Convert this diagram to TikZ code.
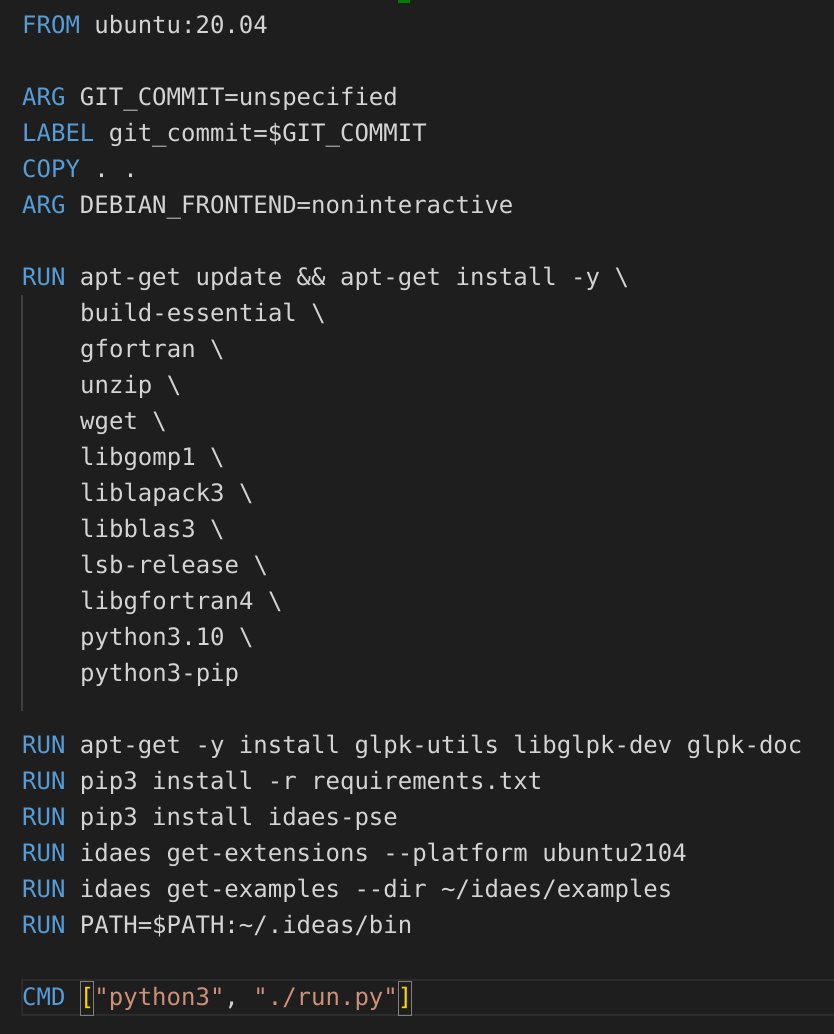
\documentclass[tikz,border=0pt]{standalone}
\usepackage{fontspec}
\newfontfamily\code{DejaVu Sans Mono}
\definecolor{bg}{HTML}{1E1E1E}
\definecolor{kw}{HTML}{569CD6}
\definecolor{tx}{HTML}{D4D4D4}
\definecolor{st}{HTML}{CE9178}
\definecolor{br}{HTML}{FFD700}
\definecolor{guide}{HTML}{404040}
\definecolor{hl}{HTML}{2C2C2C}
\newcommand{\kw}[1]{\textcolor{kw}{#1}}
\newcommand{\st}[1]{\textcolor{st}{#1}}
\newcommand{\bs}{\textbackslash}
\begin{document}
\begin{tikzpicture}[x=1pt,y=-1pt,
  ln/.style={anchor=base west,inner sep=0pt,text=tx,font=\code\fontsize{24}{24}\selectfont}]
\fill[bg] (0,0) rectangle (834,1034);
\useasboundingbox (0,0) rectangle (834,1034);
\fill[green!50!black] (398,0) rectangle (410,3);
\draw[guide,line width=1.2pt] (22,295) -- (22,711);
\draw[hl,line width=2pt] (22,980) rectangle (840,1015);
\node[ln] (l1) at (22,33) {\kw{FROM} ubuntu:20.04};
\node[ln] (l3) at (22,105) {\kw{ARG} GIT\_COMMIT=unspecified};
\node[ln] (l4) at (22,141) {\kw{LABEL} git\_commit=\$GIT\_COMMIT};
\node[ln] (l5) at (22,177) {\kw{COPY} . .};
\node[ln] (l6) at (22,213) {\kw{ARG} DEBIAN\_FRONTEND=noninteractive};
\node[ln] (l8) at (22,285) {\kw{RUN} apt-get update \&\& apt-get install -y \bs};
\node[ln] (l9) at (80,321) {build-essential \bs};
\node[ln] (l10) at (80,357) {gfortran \bs};
\node[ln] (l11) at (80,393) {unzip \bs};
\node[ln] (l12) at (80,429) {wget \bs};
\node[ln] (l13) at (80,465) {libgomp1 \bs};
\node[ln] (l14) at (80,501) {liblapack3 \bs};
\node[ln] (l15) at (80,537) {libblas3 \bs};
\node[ln] (l16) at (80,573) {lsb-release \bs};
\node[ln] (l17) at (80,609) {libgfortran4 \bs};
\node[ln] (l18) at (80,645) {python3.10 \bs};
\node[ln] (l19) at (80,681) {python3-pip};
\node[ln] (l21) at (22,753) {\kw{RUN} apt-get -y install glpk-utils libglpk-dev glpk-doc};
\node[ln] (l22) at (22,789) {\kw{RUN} pip3 install -r requirements.txt};
\node[ln] (l23) at (22,825) {\kw{RUN} pip3 install idaes-pse};
\node[ln] (l24) at (22,861) {\kw{RUN} idaes get-extensions --platform ubuntu2104};
\node[ln] (l25) at (22,897) {\kw{RUN} idaes get-examples --dir \textasciitilde/idaes/examples};
\node[ln] (l26) at (22,933) {\kw{RUN} PATH=\$PATH:\textasciitilde/.ideas/bin};
\draw[gray,line width=1pt] (80.5,981) rectangle (93,1015);
\draw[gray,line width=1pt] (398.5,981) rectangle (411,1015);
\node[ln] (l28) at (22,1005) {\kw{CMD} \textcolor{br}{[}\st{"python3"}, \st{"./run.py"}\textcolor{br}{]}};
\end{tikzpicture}
\end{document}
